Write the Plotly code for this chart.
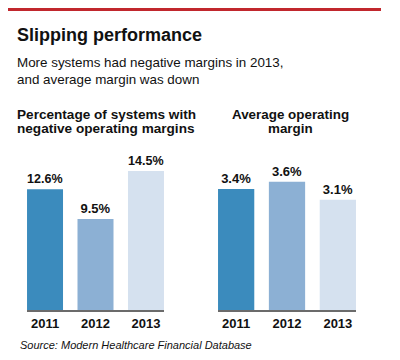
import plotly.graph_objects as go

years = ["2011", "2012", "2013"]
neg_margin_pct = [12.6, 9.5, 14.5]
avg_margin = [3.4, 3.6, 3.1]
bar_colors = ["#3b8bbd", "#8cb0d4", "#d5e1ef"]

title = "Slipping performance"
subtitle = "More systems had negative margins in 2013,<br>and average margin was down"
left_title = ["Percentage of systems with", "negative operating margins"]
right_title = ["Average operating", "margin"]
source = "Source: Modern Healthcare Financial Database"

FONT = "Liberation Sans, Arial, sans-serif"

# page body has an 8px margin; the figure fills the rest of the 400x360 window
W, H, OFF = 384, 344, 8


def px(x):
    return (x - OFF) / W


def py(y):
    return 1 - (y - OFF) / H


fig = go.Figure()
for xa, ya, vals in (("x", "y", neg_margin_pct), ("x2", "y2", avg_margin)):
    fig.add_trace(go.Bar(
        x=years, y=vals, xaxis=xa, yaxis=ya,
        marker=dict(color=bar_colors, line=dict(width=0)),
        text=[f"<b>{v:.1f}%</b>" for v in vals], textposition="outside",
        textfont=dict(family=FONT, size=13, color="#111111"),
        hoverinfo="skip", cliponaxis=False,
    ))

xcommon = dict(type="category", showline=True, linecolor="#6b6b6b", linewidth=2,
               showgrid=False, zeroline=False, ticks="",
               tickvals=years, ticktext=[f"<b>{y}</b>" for y in years],
               tickfont=dict(family=FONT, size=13, color="#111111"),
               range=[-0.357, 2.357], fixedrange=True)
ycommon = dict(visible=False, showgrid=False, zeroline=False, fixedrange=True)

base = py(310)
top = py(140)

annotations = [
    dict(text=f"<b>{title}</b>", x=px(15), y=py(35), xanchor="left",
         font=dict(family=FONT, size=18, color="#111111")),
    dict(text=subtitle, x=px(15), y=py(71), xanchor="left", align="left",
         font=dict(family=FONT, size=13.4, color="#111111")),
    dict(text=f"<i>{source}</i>", x=px(18), y=py(345), xanchor="left",
         font=dict(family=FONT, size=11, color="#111111")),
]
for i, line in enumerate(left_title):
    annotations.append(dict(text=f"<b>{line}</b>", x=px(15), y=py(114 + 15 * i), xanchor="left",
                            font=dict(family=FONT, size=13.6, color="#111111")))
for i, line in enumerate(right_title):
    annotations.append(dict(text=f"<b>{line}</b>", x=px(290), y=py(114 + 15 * i), xanchor="center",
                            font=dict(family=FONT, size=13.4, color="#111111")))
for a in annotations:
    a.update(xref="paper", yref="paper", yanchor="middle", showarrow=False)

fig.update_layout(
    width=W, height=H,
    margin=dict(l=0, r=0, t=0, b=0),
    paper_bgcolor="white", plot_bgcolor="white",
    showlegend=False,
    bargap=0.287,
    font=dict(family=FONT, color="#111111"),
    xaxis=dict(domain=[px(27), px(164)], anchor="y", **xcommon),
    yaxis=dict(domain=[base, top], anchor="x", range=[0, 170 / 9.59], **ycommon),
    xaxis2=dict(domain=[px(218), px(356)], anchor="y2", **xcommon),
    yaxis2=dict(domain=[base, top], anchor="x2", range=[0, 170 / 35.6], **ycommon),
    shapes=[dict(type="line", xref="paper", yref="paper",
                 x0=px(7), x1=px(381), y0=py(8), y1=py(8),
                 line=dict(color="#c1272d", width=6))],
    annotations=annotations,
)

fig.write_html("out.html")
